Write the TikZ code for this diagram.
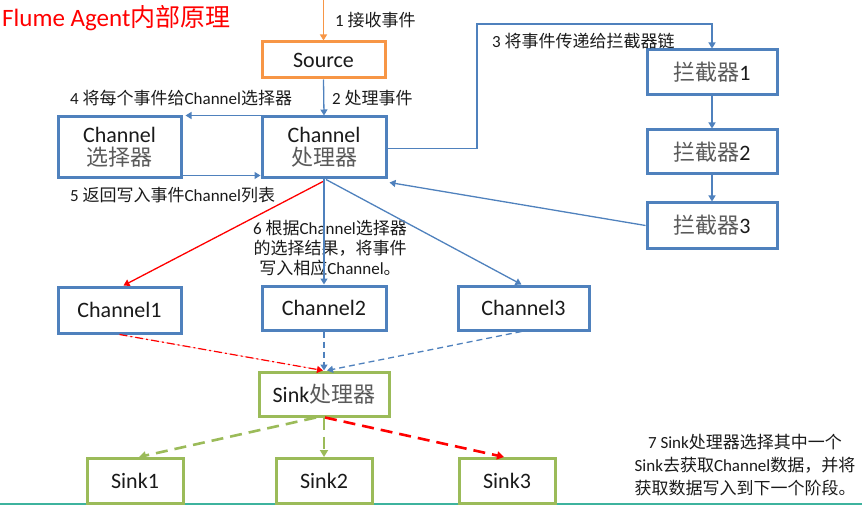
\documentclass[tikz,border=0pt]{standalone}
\usepackage{fontspec}
\setmainfont{Carlito}
\newfontfamily\cjkfont{Noto Sans CJK SC}
\newcommand\zhs[1]{{\cjkfont #1}}
\newcommand\zhg[1]{{\cjkfont\color{zhgray}#1}}
\usetikzlibrary{arrows.meta,calc}
\definecolor{obl}{HTML}{4F81BD}
\definecolor{oor}{HTML}{F79646}
\definecolor{ogr}{HTML}{9BBB59}
\definecolor{ored}{HTML}{FF0000}
\definecolor{zhgray}{HTML}{5A5A5A}
\definecolor{txt}{HTML}{1A1A1A}
\definecolor{tealline}{HTML}{3DB39E}
\tikzset{
  box/.style={draw=obl, line width=3pt, fill=white, inner sep=0pt, align=center,
    font=\fontsize{22}{25}\selectfont, text=txt},
  obox/.style={box, draw=oor},
  gbox/.style={box, draw=ogr},
  lbl/.style={anchor=west, inner sep=0pt, font=\fontsize{17}{20}\selectfont, text=txt},
  conn/.style={draw=obl, line width=1.3pt, -{Triangle[width=7pt,length=6pt]}},
  rconn/.style={conn, draw=ored, fill=ored},
  dconn/.style={conn, dashed, dash pattern=on 6pt off 4pt},
  dotdash/.style={rconn, line width=1.2pt, dash pattern=on 8pt off 3pt on 2pt off 3pt},
  gdash/.style={conn, draw=ogr, line width=2.6pt, dash pattern=on 12pt off 7pt,
    -{Triangle[width=8pt,length=7pt]}},
  rdash/.style={gdash, draw=ored}
}
\begin{document}
\begin{tikzpicture}[x=1pt,y=-1pt]
\useasboundingbox (0,0) rectangle (862,505);
% bottom strip
\draw[tealline, line width=1.5pt] (0,504.2) -- (862,504.2);
% title
\node[lbl, anchor=west, text=ored, font=\fontsize{25}{28}\selectfont] (title) at (2,18) {Flume Agent\zhs{内部原理}};
% boxes
\node[obox, minimum width=123pt, minimum height=36pt] (source) at (323.5,60) {Source};
\node[box, minimum width=124pt, minimum height=61pt] (proc) at (324,147.5) {Channel\\[-2pt]\zhg{处理器}};
\node[box, minimum width=123pt, minimum height=61pt] (sel) at (119.5,147.5) {Channel\\[-2pt]\zhg{选择器}};
\node[box, minimum width=130pt, minimum height=45pt] (int1) at (712,72.5) {\zhg{拦截器}1};
\node[box, minimum width=130pt, minimum height=44pt] (int2) at (712,152) {\zhg{拦截器}2};
\node[box, minimum width=130pt, minimum height=45pt] (int3) at (712,225.5) {\zhg{拦截器}3};
\node[box, minimum width=123pt, minimum height=46pt] (ch1) at (119.5,310) {Channel1};
\node[box, minimum width=124pt, minimum height=44pt] (ch2) at (324,308) {Channel2};
\node[box, minimum width=131pt, minimum height=44pt] (ch3) at (523.5,308) {Channel3};
\node[gbox, minimum width=130pt, minimum height=44pt] (sinkp) at (324,394) {Sink\zhg{处理器}};
\node[gbox, minimum width=96pt, minimum height=44.5pt] (sink1) at (135,480.75) {Sink1};
\node[gbox, minimum width=96pt, minimum height=44.5pt] (sink2) at (324,480.75) {Sink2};
\node[gbox, minimum width=96pt, minimum height=44.5pt] (sink3) at (507,480.75) {Sink3};
% labels
\node[lbl] (l1) at (335,20) {1 \zhs{接收事件}};
\node[lbl] (l2) at (332,98) {2 \zhs{处理事件}};
\node[lbl] (l4) at (70,98) {4 \zhs{将每个事件给}Channel\zhs{选择器}};
\node[lbl] (l5) at (70,195) {5 \zhs{返回写入事件}Channel\zhs{列表}};
\node[lbl] (l3) at (492,41) {3 \zhs{将事件传递给拦截器链}};
\node[lbl, anchor=center, align=center, font=\fontsize{17}{20}\selectfont] (l6) at (330,248)
  {6 \zhs{根据}Channel\zhs{选择器}\\\zhs{的选择结果，将事件}\\\zhs{写入相应}Channel\zhs{。}};
\node[lbl, anchor=center, align=center, font=\fontsize{17}{23}\selectfont] (l7) at (745,465)
  {7 Sink\zhs{处理器选择其中一个}\\Sink\zhs{去获取}Channel\zhs{数据，并将}\\\zhs{获取数据写入到下一个阶段。}};
% coordinates
\coordinate (top) at (323.5,0);
\coordinate (c3) at (477,24);
% connectors
\draw[conn, draw=oor, fill=oor] (top) -- (source.north);
\draw[conn] (source.south) -- (proc.north);
\draw[conn] (proc.north west) -- ($(sel.north east)+(3,0)$);
\draw[conn] ($(sel.south east)+(0,-4)$) -- ($(proc.south west)+(0,-4)$);
\draw[conn] ($(proc.east)+(0,1)$) -| (c3) -| (int1.north);
\draw[conn] (int1.south) -- (int2.north);
\draw[conn] (int2.south) -- (int3.north);
\draw[conn] (int3.west) -- ($(proc.south east)+(2,3)$);
\draw[rconn] ($(proc.south)+(-1,2)$) -- ($(ch1.north)+(4,0)$);
\draw[conn] (proc.south) -- (ch2.north);
\draw[conn] ($(proc.south)+(2,0)$) -- ($(ch3.north)+(-2,0)$);
\draw[dotdash] (ch1.south) -- ($(sinkp.north)+(-1,0)$);
\draw[dconn] (ch2.south) -- (sinkp.north);
\draw[dconn] ($(ch3.south)+(-2,0)$) -- ($(sinkp.north)+(3,0)$);
\draw[gdash] ($(sinkp.south)+(-8,0)$) -- ($(sink1.north)+(4,0)$);
\draw[gdash] (sinkp.south) -- (sink2.north);
\draw[rdash] ($(sinkp.south)+(1,0)$) -- ($(sink3.north)+(-3,0)$);
\end{tikzpicture}
\end{document}
